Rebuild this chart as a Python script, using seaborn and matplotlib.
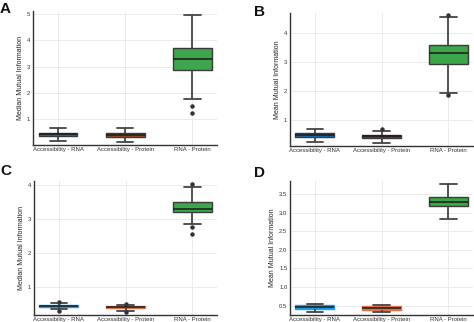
import numpy as np
import pandas as pd
import matplotlib
matplotlib.use("Agg")
import matplotlib.pyplot as plt
import seaborn as sns

categories = ["Accessibility - RNA", "Accessibility - Protein", "RNA - Protein"]

# Panel A: median MI
a_acc_rna = [0.20, 0.20, 0.36, 0.42, 0.45, 0.47, 0.50, 0.68, 0.68]
a_acc_prot = [0.16, 0.16, 0.34, 0.40, 0.42, 0.45, 0.48, 0.66, 0.66]
a_rna_prot = [1.24, 1.50, 1.76, 2.86, 3.00, 3.20, 3.30, 3.40, 3.55, 3.69, 4.20, 4.93, 4.93]

# Panel B: mean MI
b_acc_rna = [0.22, 0.22, 0.39, 0.43, 0.46, 0.50, 0.53, 0.67, 0.67]
b_acc_prot = [0.21, 0.21, 0.37, 0.40, 0.43, 0.46, 0.48, 0.62, 0.67]
b_rna_prot = [1.86, 1.93, 2.91, 3.10, 3.29, 3.45, 3.59, 4.54, 4.63]

# Panel C: median MI
c_acc_rna = [0.29, 0.34, 0.40, 0.41, 0.42, 0.44, 0.45, 0.51, 0.54]
c_acc_prot = [0.27, 0.30, 0.37, 0.38, 0.40, 0.41, 0.42, 0.47, 0.50]
c_rna_prot = [2.57, 2.76, 2.85, 3.22, 3.25, 3.28, 3.30, 3.35, 3.42, 3.51, 3.70, 3.94, 4.03]

# Panel D: mean MI
d_acc_rna = [0.34, 0.34, 0.41, 0.44, 0.455, 0.48, 0.51, 0.55, 0.55]
d_acc_prot = [0.34, 0.34, 0.39, 0.41, 0.43, 0.45, 0.48, 0.52, 0.52]
d_rna_prot = [2.82, 2.82, 3.18, 3.24, 3.29, 3.36, 3.43, 3.76, 3.76]

panels = [
    dict(letter="A", ylabel="Median Mutual Information", data=[a_acc_rna, a_acc_prot, a_rna_prot],
         colors=["#1d6cae", "#9c4c2a", "#3da64a"], ylim=(0.04, 5.1), yticks=[1, 2, 3, 4, 5],
         yticklabels=["1", "2", "3", "4", "5"], pos=[0.070, 0.550, 0.388, 0.416], letter_xy=(0.0, 0.995), dark=True),
    dict(letter="B", ylabel="Mean Mutual Information", data=[b_acc_rna, b_acc_prot, b_rna_prot],
         colors=["#1d6cae", "#7a3522", "#3da64a"], ylim=(0.10, 4.70), yticks=[1, 2, 3, 4],
         yticklabels=["1", "2", "3", "4"], pos=[0.612, 0.547, 0.386, 0.414], letter_xy=(0.535, 0.985), dark=True),
    dict(letter="C", ylabel="Median Mutual Information", data=[c_acc_rna, c_acc_prot, c_rna_prot],
         colors=["#1f9be6", "#e0714a", "#3da64a"], ylim=(0.17, 4.13), yticks=[1, 2, 3, 4],
         yticklabels=["1", "2", "3", "4"], pos=[0.072, 0.022, 0.386, 0.416], letter_xy=(0.0, 0.49), dark=False),
    dict(letter="D", ylabel="Mean Mutual Information", data=[d_acc_rna, d_acc_prot, d_rna_prot],
         colors=["#1f9be6", "#e0714a", "#3da64a"], ylim=(0.25, 3.85), yticks=[0.5, 1.0, 1.5, 2.0, 2.5, 3.0, 3.5],
         yticklabels=["0.5", "1.0", "1.5", "2.0", "2.5", "3.0", "3.5"], pos=[0.612, 0.022, 0.386, 0.416], letter_xy=(0.535, 0.485), dark=False),
]

sns.set_style("white")
plt.rcParams["font.family"] = ["Liberation Sans", "DejaVu Sans"]

fig = plt.figure(figsize=(4.74, 3.22), dpi=100)

for p in panels:
    ax = fig.add_axes(p["pos"])
    rows = []
    for cat, vals in zip(categories, p["data"]):
        for v in vals:
            rows.append((cat, v))
    df = pd.DataFrame(rows, columns=["pair", "value"])
    sns.boxplot(data=df, x="pair", y="value", hue="pair", order=categories, hue_order=categories,
                palette=p["colors"], width=0.58, linewidth=1.0, linecolor="#3a3a3a",
                saturation=1, legend=False, ax=ax,
                flierprops=dict(marker="o", markersize=2.2, markerfacecolor="#333333",
                                markeredgecolor="#333333"),
                whiskerprops=dict(linewidth=1.3, color="#444444"),
                capprops=dict(linewidth=1.3, color="#444444"),
                medianprops=dict(linewidth=1.1, color="#1a1a1a"))
    # caps about half as wide as the boxes
    for cont in ax.containers:
        if hasattr(cont, "caps"):
            for cap in cont.caps:
                xd = np.asarray(cap.get_xdata(), dtype=float)
                c = xd.mean()
                cap.set_xdata(c + (xd - c) * 0.85)
    if not p["dark"]:
        for i, patch in enumerate(ax.patches[:2]):
            patch.set_edgecolor(p["colors"][i])
    ax.set_xlim(-0.37, 2.37)
    ax.set_ylim(*p["ylim"])
    ax.set_yticks(p["yticks"])
    ax.set_yticklabels(p["yticklabels"])
    ax.set_xlabel("")
    ax.set_ylabel(p["ylabel"], fontsize=5.0, color="#222222", labelpad=2)
    ax.grid(True, color="#e8e8e8", linewidth=0.6)
    ax.set_axisbelow(True)
    for s in ["top", "right"]:
        ax.spines[s].set_visible(False)
    for s in ["left", "bottom"]:
        ax.spines[s].set_color("#333333")
        ax.spines[s].set_linewidth(1.0)
    ax.tick_params(axis="y", labelsize=4.2, length=2, direction="in", colors="#333333", pad=2)
    ax.tick_params(axis="x", labelsize=4.3, length=2, direction="in", colors="#333333", pad=1.5)
    fig.text(p["letter_xy"][0], p["letter_xy"][1], p["letter"], fontsize=11, fontweight="bold",
             ha="left", va="top", color="#111111")

fig.savefig("out.png", dpi=100)
